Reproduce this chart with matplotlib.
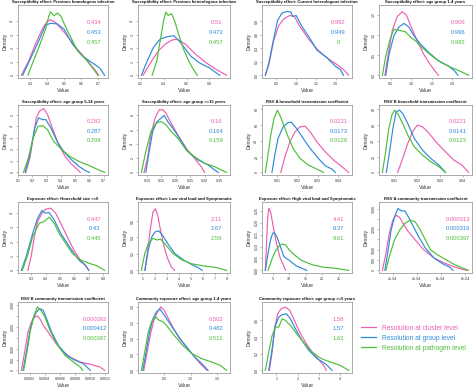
import matplotlib
matplotlib.use("Agg")
import matplotlib.pyplot as plt
from matplotlib.lines import Line2D

plt.rcParams['font.family'] = ['Liberation Sans', 'DejaVu Sans']

# ---------------- data ----------------
series_names = ["Resolution at cluster level", "Resolution at group level", "Resolution at pathogen level"]

titles = [
    "Susceptibility effect: Previous homologous infection",
    "Susceptibility effect: Previous heterologous infection",
    "Susceptibility effect: Current heterologous infection",
    "Susceptibility effect: age group 1-4 years",
    "Susceptibility effect: age group 5-14 years",
    "Susceptibility effect: age group >=15 years",
    "RSV A household transmission coefficient",
    "RSV B household transmission coefficient",
    "Exposure effect: Household size >=6",
    "Exposure effect: Low viral load and Symptomatic",
    "Exposure effect: High viral load and Symptomatic",
    "RSV A community transmission coefficient",
    "RSV B community transmission coefficient",
    "Community exposure effect: age group 1-4 years",
    "Community exposure effect: age group >=5 years",
]

# summary values printed in each panel (cluster, group, pathogen)
summary_values = [
    ["0.434", "0.453", "0.457"],
    ["0.51", "0.473", "0.457"],
    ["0.992", "0.949", "0"],
    ["0.906", "0.996", "0.982"],
    ["0.282", "0.287", "0.298"],
    ["0.16", "0.164", "0.159"],
    ["0.0231", "0.0173", "0.0129"],
    ["0.0221", "0.0141", "0.0123"],
    ["0.447", "0.43", "0.445"],
    ["2.11", "2.67", "2.59"],
    ["4.41", "6.37", "9.61"],
    ["0.000313", "0.000316", "0.000397"],
    ["0.000392", "0.000412", "0.000397"],
    ["0.502", "0.482", "0.511"],
    ["1.58", "1.57", "1.62"],
]

# Panel 1: previous homologous infection
hom_clu_x = [0.247, 0.29, 0.33, 0.37, 0.40, 0.42, 0.45, 0.51, 0.57, 0.63, 0.68, 0.705]
hom_clu_y = [0, 1.05, 2.3, 3.4, 4.0, 4.1, 3.9, 3.05, 2.05, 1.2, 0.45, 0]
hom_grp_x = [0.255, 0.30, 0.35, 0.39, 0.42, 0.46, 0.50, 0.55, 0.61, 0.67, 0.71, 0.74]
hom_grp_y = [0, 1.2, 2.55, 3.7, 3.85, 3.8, 3.4, 2.3, 1.4, 0.9, 0.55, 0]
hom_pat_x = [0.286, 0.31, 0.35, 0.39, 0.41, 0.42, 0.44, 0.46, 0.48, 0.51, 0.54, 0.58, 0.62, 0.66, 0.69, 0.70]
hom_pat_y = [0, 0.8, 2.05, 3.4, 4.4, 4.7, 4.4, 4.6, 4.4, 3.55, 2.8, 1.8, 1.3, 0.68, 0.18, 0]

# Panel 2: previous heterologous infection
het_clu_x = [0.22, 0.295, 0.354, 0.413, 0.47, 0.517, 0.59, 0.68, 0.77, 0.86, 0.95]
het_clu_y = [0, 1.05, 1.8, 2.3, 2.6, 2.68, 2.3, 1.55, 0.93, 0.43, 0]
het_grp_x = [0.206, 0.25, 0.31, 0.37, 0.43, 0.49, 0.547, 0.636, 0.71, 0.80, 0.86, 0.89]
het_grp_y = [0, 0.93, 2.05, 2.68, 2.85, 2.93, 2.43, 1.43, 0.93, 0.55, 0.18, 0]
het_pat_x = [0.30, 0.34, 0.37, 0.40, 0.42, 0.44, 0.47, 0.50, 0.53, 0.58, 0.62, 0.66, 0.695]
het_pat_y = [0, 1.05, 2.55, 4.05, 4.68, 4.43, 4.55, 3.93, 3.05, 1.8, 1.05, 0.43, 0]

# Panel 3: current heterologous infection (no pathogen-level curve)
cur_clu_x = [0.22, 0.31, 0.43, 0.56, 0.686, 0.84, 0.955, 1.107, 1.318, 1.53, 1.78, 2.03, 2.2, 2.33]
cur_clu_y = [0, 0.16, 0.51, 0.735, 0.835, 0.885, 0.87, 0.71, 0.535, 0.385, 0.26, 0.16, 0.085, 0]
cur_grp_x = [0.22, 0.31, 0.43, 0.53, 0.64, 0.77, 0.87, 0.91, 1.0, 1.15, 1.36, 1.53, 1.78, 1.99, 2.12, 2.2]
cur_grp_y = [0, 0.185, 0.535, 0.81, 0.92, 0.945, 0.935, 0.87, 0.885, 0.72, 0.535, 0.37, 0.26, 0.135, 0.085, 0]
cur_pat_x = []
cur_pat_y = []

# Panel 4: age group 1-4
a14_clu_x = [0.36, 0.44, 0.54, 0.66, 0.78, 0.88, 0.98, 1.14, 1.30, 1.46, 1.58, 1.66]
a14_clu_y = [0, 0.525, 1.12, 1.46, 1.58, 1.5, 1.25, 0.86, 0.525, 0.27, 0.1, 0]
a14_grp_x = [0.38, 0.46, 0.58, 0.70, 0.82, 0.94, 1.06, 1.22, 1.42, 1.66, 1.90, 2.06, 2.13]
a14_grp_y = [0, 0.525, 0.99, 1.2, 1.29, 1.2, 0.99, 0.78, 0.57, 0.36, 0.23, 0.1, 0]
a14_pat_x = [0.30, 0.38, 0.50, 0.58, 0.70, 0.86, 0.98, 1.10, 1.26, 1.50, 1.74, 1.98, 2.19, 2.39]
a14_pat_y = [0, 0.48, 0.95, 1.14, 1.12, 1.08, 0.95, 0.86, 0.69, 0.48, 0.31, 0.19, 0.1, 0]

# Panel 5: age group 5-14
a514_clu_x = [0.154, 0.183, 0.206, 0.228, 0.25, 0.28, 0.307, 0.34, 0.385, 0.43, 0.475, 0.52, 0.536]
a514_clu_y = [0, 1.22, 2.97, 4.71, 5.29, 5.52, 5.0, 3.84, 2.38, 1.37, 0.70, 0.2, 0]
a514_grp_x = [0.15, 0.183, 0.217, 0.244, 0.273, 0.295, 0.33, 0.374, 0.42, 0.475, 0.53, 0.576, 0.6]
a514_grp_y = [0, 1.51, 3.84, 4.71, 4.56, 4.56, 3.84, 2.67, 1.8, 1.08, 0.49, 0.12, 0]
a514_pat_x = [0.138, 0.172, 0.206, 0.24, 0.273, 0.307, 0.35, 0.408, 0.464, 0.53, 0.6, 0.666, 0.707]
a514_pat_y = [0, 1.22, 2.97, 3.98, 4.04, 3.69, 2.67, 1.95, 1.37, 0.93, 0.58, 0.2, 0]

# Panel 6: age group >=15
a15_clu_x = [0.09, 0.102, 0.114, 0.128, 0.143, 0.155, 0.166, 0.184, 0.207, 0.236, 0.265, 0.288, 0.30]
a15_clu_y = [0, 2.0, 5.3, 7.6, 8.8, 8.8, 8.33, 6.9, 5.27, 3.39, 1.98, 0.8, 0]
a15_grp_x = [0.096, 0.108, 0.12, 0.135, 0.149, 0.16, 0.172, 0.19, 0.213, 0.242, 0.277, 0.312, 0.335, 0.347]
a15_grp_y = [0, 2.9, 5.74, 7.15, 7.6, 8.0, 7.15, 6.2, 4.8, 2.92, 1.74, 1.04, 0.33, 0]
a15_pat_x = [0.081, 0.096, 0.114, 0.131, 0.149, 0.166, 0.184, 0.207, 0.236, 0.265, 0.30, 0.335, 0.358, 0.376]
a15_pat_y = [0, 2.9, 5.74, 6.9, 7.15, 6.7, 5.74, 4.8, 3.15, 2.2, 1.27, 0.8, 0.33, 0]

# Panel 7: RSV A household transmission
hha_clu_x = [0.0117, 0.0137, 0.0162, 0.0187, 0.0212, 0.0237, 0.0262, 0.0295, 0.0337, 0.0378, 0.042, 0.0453]
hha_clu_y = [0, 19.8, 38.7, 51.4, 57.7, 58.5, 51.4, 38.7, 26.1, 15.6, 7.2, 0]
hha_grp_x = [0.0073, 0.0087, 0.0103, 0.0128, 0.0153, 0.017, 0.0195, 0.0228, 0.0262, 0.0303, 0.0337, 0.037, 0.0387]
hha_grp_y = [0, 21.9, 42.9, 57.7, 63.2, 63.2, 55.6, 42.9, 30.3, 17.7, 8.4, 4.2, 0]
hha_pat_x = [0.004, 0.0053, 0.0067, 0.0083, 0.01, 0.0112, 0.0128, 0.0153, 0.0178, 0.0212, 0.0253, 0.0295, 0.0328]
hha_pat_y = [0, 21.9, 47.2, 68.2, 78.7, 72.4, 61.9, 45, 30.3, 17.7, 9.3, 4.2, 0]

# Panel 8: RSV B household transmission
hhb_clu_x = [0.0114, 0.0136, 0.0158, 0.0179, 0.02, 0.0223, 0.0252, 0.0288, 0.0324, 0.036, 0.0396, 0.0425]
hhb_clu_y = [0, 17.7, 36.6, 51.4, 59.8, 57.7, 49.3, 36.6, 26.1, 15.6, 9.3, 0]
hhb_grp_x = [0.0064, 0.0078, 0.0093, 0.0107, 0.0122, 0.0136, 0.0158, 0.0187, 0.0223, 0.0259, 0.0295, 0.0324]
hhb_grp_y = [0, 26, 55.6, 76.6, 78.7, 74.5, 61.9, 42.9, 28.2, 17.7, 9.3, 0]
hhb_pat_x = [0.0047, 0.0061, 0.0075, 0.0088, 0.01, 0.0114, 0.0136, 0.0158, 0.0187, 0.0223, 0.0259, 0.0295, 0.0324]
hhb_pat_y = [0, 26, 55.6, 72.4, 78.7, 74.5, 61.9, 47.2, 32.4, 21.9, 13.5, 7.2, 0]

# Panel 9: household size >=6
hhs_clu_x = [0.277, 0.30, 0.323, 0.345, 0.375, 0.40, 0.436, 0.47, 0.505, 0.55, 0.595, 0.64, 0.68, 0.70]
hhs_clu_y = [0, 0.98, 2.37, 3.42, 4.0, 4.28, 4.35, 4.0, 3.3, 2.37, 1.44, 0.74, 0.28, 0]
hhs_grp_x = [0.232, 0.266, 0.311, 0.345, 0.375, 0.40, 0.425, 0.46, 0.505, 0.55, 0.595, 0.64, 0.675, 0.70]
hhs_grp_y = [0, 0.98, 2.6, 3.65, 4.19, 4.0, 4.05, 3.53, 2.6, 1.9, 1.21, 0.63, 0.4, 0]
hhs_pat_x = [0.239, 0.277, 0.311, 0.357, 0.39, 0.425, 0.46, 0.493, 0.539, 0.584, 0.64, 0.698, 0.755, 0.81]
hhs_pat_y = [0, 1.09, 2.37, 3.3, 3.42, 3.72, 3.3, 2.6, 1.9, 1.21, 0.74, 0.51, 0.33, 0]

# Panel 10: low viral load and symptomatic
low_clu_x = [1.2, 1.4, 1.64, 1.87, 2.07, 2.27, 2.5, 2.79, 3.08, 3.37, 3.66]
low_clu_y = [0, 0.21, 0.49, 0.71, 0.75, 0.67, 0.49, 0.29, 0.15, 0.05, 0]
low_grp_x = [1.2, 1.49, 1.78, 2.07, 2.36, 2.65, 3.08, 3.66, 4.38, 5.1, 5.68, 5.97]
low_grp_y = [0, 0.25, 0.41, 0.47, 0.48, 0.43, 0.33, 0.21, 0.13, 0.07, 0.03, 0]
low_pat_x = [0.91, 1.2, 1.49, 1.87, 2.21, 2.5, 2.94, 3.51, 4.24, 5.1, 6.26, 7.13, 8.0]
low_pat_y = [0, 0.21, 0.33, 0.39, 0.37, 0.38, 0.31, 0.21, 0.13, 0.08, 0.05, 0.036, 0]

# Panel 11: high viral load and symptomatic
high_clu_x = [2.78, 3.1, 3.5, 3.84, 4.36, 5.0, 5.74, 6.5, 7.3, 8.2, 8.9]
high_clu_y = [0, 0.1, 0.225, 0.26, 0.246, 0.197, 0.142, 0.093, 0.051, 0.024, 0]
high_grp_x = [2.78, 3.6, 4.36, 5.0, 5.53, 6.27, 7.33, 8.4, 10.0, 12.1, 15.3]
high_grp_y = [0, 0.072, 0.128, 0.156, 0.158, 0.142, 0.1, 0.058, 0.042, 0.019, 0]
high_pat_x = [3.6, 4.7, 5.74, 6.8, 7.86, 8.9, 10.0, 11.6, 13.7, 16.9, 20.0, 24.3, 28.0]
high_pat_y = [0, 0.044, 0.079, 0.1, 0.111, 0.107, 0.086, 0.065, 0.042, 0.024, 0.014, 0.008, 0]

# Panel 12: RSV A community transmission
coma_clu_x = [1.14e-4, 1.43e-4, 1.71e-4, 2.0e-4, 2.29e-4, 2.57e-4, 2.86e-4, 3.29e-4, 3.86e-4, 4.57e-4, 5.43e-4, 6.29e-4, 7.14e-4, 8.14e-4]
coma_clu_y = [0, 834, 1797, 2439, 2679, 2567, 2278, 1877, 1476, 995, 594, 353, 160, 0]
coma_grp_x = [1.34e-4, 1.57e-4, 1.86e-4, 2.14e-4, 2.43e-4, 2.71e-4, 3.0e-4, 3.29e-4, 3.71e-4, 4.14e-4, 4.71e-4, 5.43e-4, 6.14e-4, 6.71e-4, 7.0e-4]
coma_grp_y = [0, 834, 1957, 2599, 3000, 2888, 2888, 2599, 2118, 1636, 1075, 594, 321, 160, 0]
coma_pat_x = [1.43e-4, 1.71e-4, 2.14e-4, 2.57e-4, 3.0e-4, 3.43e-4, 3.86e-4, 4.29e-4, 4.71e-4, 5.14e-4, 5.71e-4, 6.43e-4, 7.14e-4, 8.29e-4]
coma_pat_y = [0, 674, 1476, 1957, 2278, 2439, 2358, 1957, 1476, 995, 754, 513, 273, 0]

# Panel 13: RSV B community transmission
comb_clu_x = [0.89e-4, 1.33e-4, 1.78e-4, 2.22e-4, 2.67e-4, 3.0e-4, 3.33e-4, 3.78e-4, 4.44e-4, 5.33e-4, 6.22e-4, 7.33e-4, 8.67e-4, 10.2e-4, 11.3e-4, 11.9e-4]
comb_clu_y = [0, 846, 1769, 2231, 2462, 2508, 2385, 2077, 1769, 1308, 923, 615, 385, 262, 154, 0]
comb_grp_x = [1.11e-4, 1.56e-4, 2.0e-4, 2.44e-4, 2.89e-4, 3.33e-4, 3.78e-4, 4.22e-4, 4.89e-4, 5.78e-4, 6.89e-4, 8.0e-4, 9.11e-4, 10.0e-4]
comb_grp_y = [0, 846, 1769, 2385, 2692, 2846, 2769, 2385, 1769, 1154, 692, 462, 308, 0]
comb_pat_x = [1.2e-4, 1.64e-4, 2.09e-4, 2.58e-4, 3.0e-4, 3.47e-4, 4.0e-4, 4.67e-4, 5.56e-4, 6.67e-4, 7.78e-4, 8.67e-4, 9.0e-4]
comb_pat_y = [0, 846, 1846, 2538, 2923, 2769, 2462, 1846, 1231, 692, 385, 154, 0]

# Panel 14: community exposure, age 1-4
ce14_clu_x = [0.113, 0.177, 0.242, 0.306, 0.371, 0.435, 0.5, 0.565, 0.66, 0.79, 0.92, 1.05, 1.18, 1.31]
ce14_clu_y = [0, 0.58, 1.16, 1.58, 1.84, 2.0, 1.89, 1.68, 1.37, 1.0, 0.74, 0.47, 0.21, 0]
ce14_grp_x = [0.094, 0.158, 0.223, 0.287, 0.352, 0.416, 0.48, 0.565, 0.69, 0.82, 0.95, 1.08, 1.21, 1.33]
ce14_grp_y = [0, 0.58, 1.21, 1.63, 1.84, 1.93, 1.79, 1.58, 1.26, 0.95, 0.68, 0.42, 0.21, 0]
ce14_pat_x = [0.068, 0.132, 0.197, 0.26, 0.34, 0.40, 0.48, 0.565, 0.69, 0.85, 1.02, 1.21, 1.40, 1.56, 1.68]
ce14_pat_y = [0, 0.58, 1.21, 1.53, 1.68, 1.58, 1.53, 1.37, 1.1, 0.79, 0.53, 0.37, 0.26, 0.16, 0]

# Panel 15: community exposure, age >=5
ce5_clu_x = [0.67, 0.8, 0.91, 1.06, 1.22, 1.42, 1.63, 1.81, 2.05, 2.36, 2.67, 2.98, 3.22, 3.34]
ce5_clu_y = [0, 0.22, 0.5, 0.68, 0.74, 0.76, 0.72, 0.62, 0.48, 0.34, 0.22, 0.13, 0.06, 0]
ce5_grp_x = [0.64, 0.8, 0.95, 1.11, 1.27, 1.47, 1.66, 1.89, 2.2, 2.52, 2.91, 3.3, 3.61]
ce5_grp_y = [0, 0.26, 0.54, 0.64, 0.67, 0.68, 0.62, 0.5, 0.36, 0.24, 0.14, 0.08, 0]
ce5_pat_x = [0.48, 0.64, 0.8, 0.95, 1.11, 1.27, 1.42, 1.66, 1.89, 2.2, 2.59, 2.98, 3.22, 3.53, 4.0, 4.39]
ce5_pat_y = [0, 0.22, 0.42, 0.52, 0.52, 0.62, 0.6, 0.54, 0.46, 0.36, 0.24, 0.16, 0.13, 0.1, 0.06, 0]

# x tick values / labels per panel
xtick_vals = [
    [0.3, 0.4, 0.5, 0.6, 0.7], [0.2, 0.4, 0.6, 0.8], [0.5, 1.0, 1.5, 2.0], [0.5, 1.0, 1.5, 2.0],
    [0.1, 0.2, 0.3, 0.4, 0.5, 0.6, 0.7], [0.10, 0.15, 0.20, 0.25, 0.30, 0.35], [0.01, 0.02, 0.03, 0.04], [0.01, 0.02, 0.03, 0.04],
    [0.3, 0.4, 0.5, 0.6, 0.7, 0.8], [1, 2, 3, 4, 5, 6, 7, 8], [5, 10, 15, 20, 25], [2e-4, 4e-4, 6e-4, 8e-4],
    [2e-4, 4e-4, 6e-4, 8e-4, 10e-4, 12e-4], [0.5, 1.0, 1.5], [1, 2, 3, 4],
]
xtick_labels = [
    ["0.3", "0.4", "0.5", "0.6", "0.7"], ["0.2", "0.4", "0.6", "0.8"], ["0.5", "1.0", "1.5", "2.0"], ["0.5", "1.0", "1.5", "2.0"],
    ["0.1", "0.2", "0.3", "0.4", "0.5", "0.6", "0.7"], ["0.10", "0.15", "0.20", "0.25", "0.30", "0.35"],
    ["0.01", "0.02", "0.03", "0.04"], ["0.01", "0.02", "0.03", "0.04"],
    ["0.3", "0.4", "0.5", "0.6", "0.7", "0.8"], ["1", "2", "3", "4", "5", "6", "7", "8"], ["5", "10", "15", "20", "25"],
    ["2e-04", "4e-04", "6e-04", "8e-04"], ["0.0002", "0.0004", "0.0006", "0.0008", "0.0010", "0.0012"],
    ["0.5", "1.0", "1.5"], ["1", "2", "3", "4"],
]
ytick_vals = [
    [0, 1, 2, 3, 4], [0, 1, 2, 3, 4], [0, 0.2, 0.4, 0.6, 0.8], [0, 0.5, 1.0, 1.5],
    [0, 1, 2, 3, 4, 5], [0, 2, 4, 6, 8], [0, 20, 40, 60, 80], [0, 20, 40, 60, 80],
    [0, 1, 2, 3, 4], [0, 0.2, 0.4, 0.6], [0, 0.05, 0.10, 0.15, 0.20, 0.25], [0, 500, 1000, 1500, 2000, 2500, 3000],
    [0, 500, 1000, 1500, 2000, 2500, 3000], [0, 0.5, 1.0, 1.5, 2.0], [0, 0.2, 0.4, 0.6],
]
ytick_labels = [
    ["0", "1", "2", "3", "4"], ["0", "1", "2", "3", "4"], ["0.0", "0.2", "0.4", "0.6", "0.8"], ["0.0", "0.5", "1.0", "1.5"],
    ["0", "1", "2", "3", "4", "5"], ["0", "2", "4", "6", "8"], ["0", "20", "40", "60", "80"], ["0", "20", "40", "60", "80"],
    ["0", "1", "2", "3", "4"], ["0.0", "0.2", "0.4", "0.6"], ["0.00", "0.05", "0.10", "0.15", "0.20", "0.25"],
    ["0", "500", "1000", "", "2000", "", "3000"], ["0", "500", "1000", "", "2000", "", "3000"],
    ["0.0", "0.5", "1.0", "1.5", "2.0"], ["0.0", "0.2", "0.4", "0.6"],
]
y_tops = [5.0, 5.0, 1.0, 1.68, 5.6, 9.1, 82, 82, 4.6, 0.8, 0.276, 3190, 3030, 2.07, 0.79]

curves = [
    [(hom_clu_x, hom_clu_y), (hom_grp_x, hom_grp_y), (hom_pat_x, hom_pat_y)],
    [(het_clu_x, het_clu_y), (het_grp_x, het_grp_y), (het_pat_x, het_pat_y)],
    [(cur_clu_x, cur_clu_y), (cur_grp_x, cur_grp_y), (cur_pat_x, cur_pat_y)],
    [(a14_clu_x, a14_clu_y), (a14_grp_x, a14_grp_y), (a14_pat_x, a14_pat_y)],
    [(a514_clu_x, a514_clu_y), (a514_grp_x, a514_grp_y), (a514_pat_x, a514_pat_y)],
    [(a15_clu_x, a15_clu_y), (a15_grp_x, a15_grp_y), (a15_pat_x, a15_pat_y)],
    [(hha_clu_x, hha_clu_y), (hha_grp_x, hha_grp_y), (hha_pat_x, hha_pat_y)],
    [(hhb_clu_x, hhb_clu_y), (hhb_grp_x, hhb_grp_y), (hhb_pat_x, hhb_pat_y)],
    [(hhs_clu_x, hhs_clu_y), (hhs_grp_x, hhs_grp_y), (hhs_pat_x, hhs_pat_y)],
    [(low_clu_x, low_clu_y), (low_grp_x, low_grp_y), (low_pat_x, low_pat_y)],
    [(high_clu_x, high_clu_y), (high_grp_x, high_grp_y), (high_pat_x, high_pat_y)],
    [(coma_clu_x, coma_clu_y), (coma_grp_x, coma_grp_y), (coma_pat_x, coma_pat_y)],
    [(comb_clu_x, comb_clu_y), (comb_grp_x, comb_grp_y), (comb_pat_x, comb_pat_y)],
    [(ce14_clu_x, ce14_clu_y), (ce14_grp_x, ce14_grp_y), (ce14_pat_x, ce14_pat_y)],
    [(ce5_clu_x, ce5_clu_y), (ce5_grp_x, ce5_grp_y), (ce5_pat_x, ce5_pat_y)],
]

# ---------------- style ----------------
colors = ['#EE5FB0', '#2E8AD8', '#4DBE3A']
W, H = 474, 390
col_px = [(18, 108), (138, 230), (262, 352), (379, 472)]
row_px = [(5, 78), (105, 175), (202, 273), (302, 373)]
axis_grey = '#8a8a8a'
text_dark = '#333333'

fig = plt.figure(figsize=(W / 100, H / 100), dpi=100)
fig.patch.set_facecolor('white')

for i in range(15):
    r, c = divmod(i, 4)
    l, rr = col_px[c]
    t, b = row_px[r]
    ax = fig.add_axes([l / W, 1 - b / H, (rr - l) / W, (b - t) / H])
    for k, (xs, ys) in enumerate(curves[i]):
        if len(xs):
            ax.plot(xs, ys, color=colors[k], lw=0.85, solid_joinstyle='round')
    ax.margins(x=0.04)
    top = y_tops[i]
    ax.set_ylim(-0.04 * top, 1.04 * top)
    ax.set_xticks(xtick_vals[i])
    ax.set_xticklabels(xtick_labels[i])
    ax.set_yticks(ytick_vals[i])
    ax.set_yticklabels(ytick_labels[i], rotation=90, va='center')
    ax.tick_params(axis='both', direction='out', length=1.6, width=0.4, colors=axis_grey,
                   labelsize=2.6, labelcolor=text_dark, pad=1.0)
    for sp in ax.spines.values():
        sp.set_color(axis_grey)
        sp.set_linewidth(0.5)
    ax.set_title(titles[i], fontsize=3.0, fontweight='bold', pad=1.6, color='#111111')
    ax.set_xlabel("Value", fontsize=3.7, labelpad=1.5, color=text_dark)
    ax.set_ylabel("Density", fontsize=3.7, labelpad=1.8, color=text_dark)
    for k in range(3):
        ax.text(0.85, 0.76 - 0.135 * k, summary_values[i][k], transform=ax.transAxes,
                ha='center', va='center', fontsize=4.2, color=colors[k])

handles = [Line2D([0], [0], color=colors[k], lw=0.9) for k in range(3)]
fig.legend(handles, series_names, loc='center left',
           bbox_to_anchor=(358 / W, 1 - 338 / H), frameon=False, fontsize=4.8,
           handlelength=2.2, handletextpad=0.9, labelspacing=0.45, borderpad=0,
           labelcolor=colors)

fig.savefig("out.png", dpi=100, facecolor='white')
